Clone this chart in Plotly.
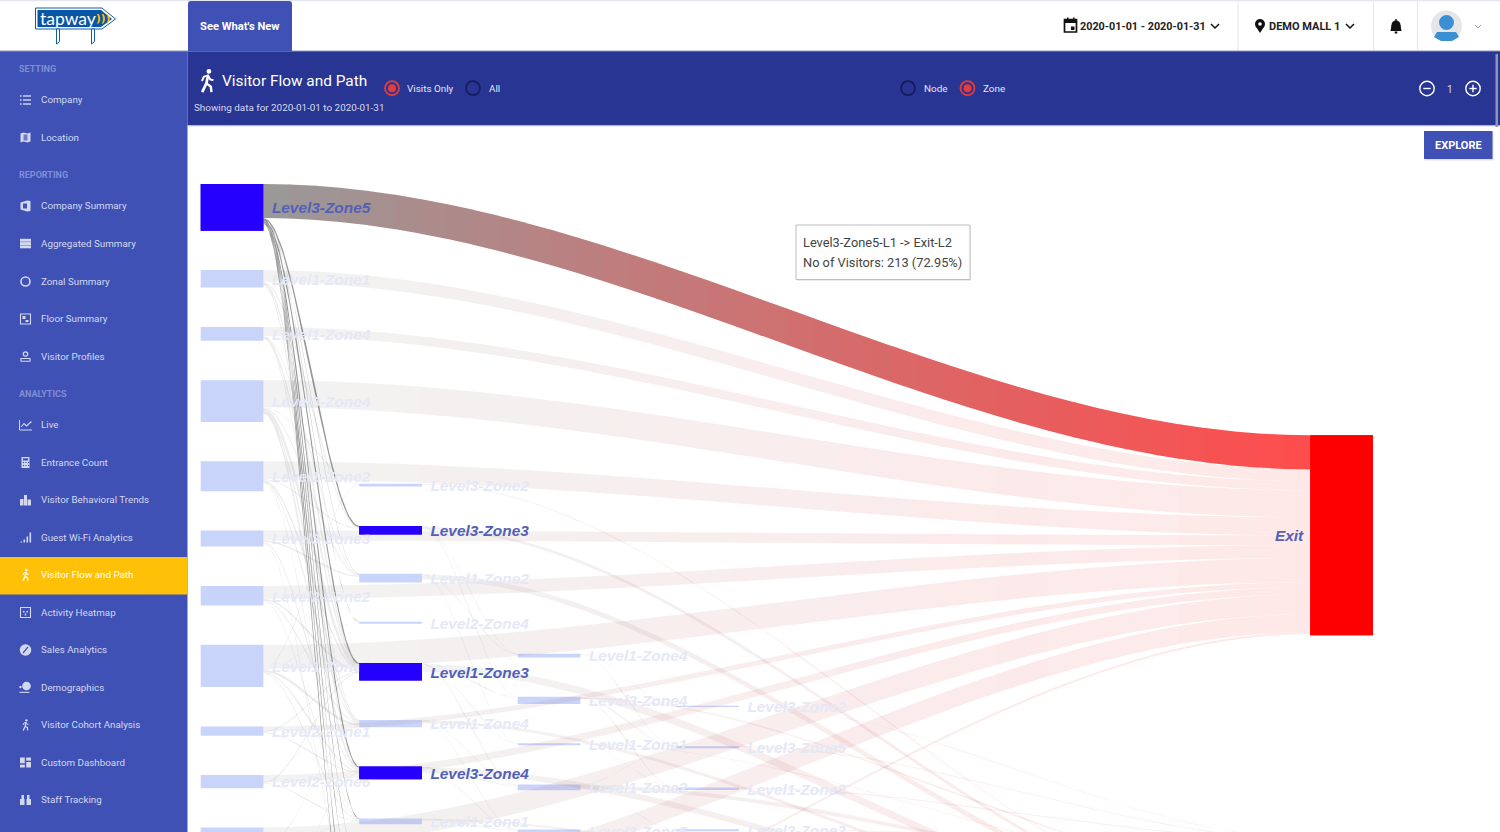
import numpy as np
import plotly.graph_objects as go

# --- Data: visitors per node, one pair of lists per sankey column ---
col0_names = ["Level3-Zone5", "Level1-Zone1", "Level1-Zone4", "Level3-Zone4", "Level1-Zone2", "Level3-Zone3", "Level2-Zone2",
              "Level1-Zone3", "Level2-Zone1", "Level2-Zone6", "Level2-Zone4", "Level2-Zone3", "Level3-Zone2", "Level2-Zone5"]
col0_values = [292, 110, 87, 262, 187, 100, 123, 264, 58, 83, 170, 150, 40, 30]

col1_names = ["Level3-Zone2", "Level3-Zone3", "Level1-Zone2", "Level2-Zone4", "Level1-Zone3", "Level1-Zone4", "Level3-Zone4",
              "Level1-Zone1", "Level2-Zone2", "Level2-Zone1", "Level2-Zone6", "Level3-Zone5"]
col1_values = [18, 54, 54, 12, 110, 46, 79, 36, 30, 30, 30, 30]

col2_names = ["Level1-Zone4", "Level3-Zone4", "Level1-Zone1", "Level1-Zone2", "Level3-Zone5"]
col2_values = [23, 46, 12, 36, 20]

col3_names = ["Level3-Zone2", "Level3-Zone5", "Level1-Zone2", "Level3-Zone3"]
col3_values = [8, 12, 16, 12]

exit_names = ["Exit-L2"]
exit_values = [1250]
exit_low_names = ["Exit-L5", "Exit-L4", "Exit-L3"]
exit_low_values = [20, 40, 170]

# nodes drawn solid because the hovered link touches them
active_nodes = ["Level3-Zone5-L1", "Level3-Zone3-L2", "Level1-Zone3-L2", "Level3-Zone4-L2", "Exit-L2"]

links_exit_src = ["Level3-Zone5-L1", "Level1-Zone1-L1", "Level1-Zone4-L1", "Level3-Zone4-L1", "Level1-Zone2-L1", "Level3-Zone3-L1",
                  "Level2-Zone2-L1", "Level1-Zone3-L1", "Level2-Zone1-L1", "Level2-Zone6-L1", "Level2-Zone4-L1", "Level2-Zone3-L1",
                  "Level2-Zone5-L1"]
links_exit_val = [213, 75, 56, 169, 112, 62, 81, 150, 31, 44, 125, 112, 12]

links_hover_tgt = ["Level3-Zone3-L2", "Level1-Zone2-L2", "Level2-Zone4-L2", "Level1-Zone3-L2", "Level3-Zone4-L2", "Level1-Zone1-L2",
                   "Level2-Zone2-L2", "Level2-Zone1-L2", "Level2-Zone6-L2", "Level3-Zone5-L2"]
links_hover_val = [8, 1, 1, 7, 6, 3, 2, 2, 2, 3]

# the thin grey links between the columns: source, target, visitors
thin_src = ["Level1-Zone1-L1", "Level1-Zone1-L1", "Level1-Zone1-L1", "Level1-Zone4-L1", "Level1-Zone4-L1", "Level1-Zone4-L1",
            "Level3-Zone4-L1", "Level3-Zone4-L1", "Level3-Zone4-L1", "Level3-Zone4-L1", "Level3-Zone4-L1", "Level1-Zone2-L1",
            "Level1-Zone2-L1", "Level1-Zone2-L1", "Level1-Zone2-L1", "Level3-Zone3-L1", "Level3-Zone3-L1", "Level3-Zone3-L1",
            "Level2-Zone2-L1", "Level2-Zone2-L1", "Level2-Zone2-L1", "Level1-Zone3-L1", "Level1-Zone3-L1", "Level1-Zone3-L1",
            "Level1-Zone3-L1", "Level1-Zone3-L1", "Level2-Zone1-L1", "Level2-Zone1-L1", "Level2-Zone6-L1", "Level2-Zone6-L1",
            "Level2-Zone4-L1", "Level2-Zone4-L1", "Level2-Zone3-L1",
            "Level3-Zone3-L2", "Level3-Zone3-L2", "Level1-Zone2-L2", "Level1-Zone2-L2", "Level1-Zone3-L2", "Level1-Zone3-L2",
            "Level1-Zone3-L2", "Level1-Zone4-L2", "Level1-Zone4-L2", "Level3-Zone4-L2", "Level3-Zone4-L2", "Level1-Zone1-L2",
            "Level1-Zone4-L3", "Level1-Zone4-L3", "Level3-Zone4-L3", "Level3-Zone4-L3", "Level1-Zone1-L3", "Level1-Zone2-L3",
            "Level1-Zone2-L3"]
thin_tgt = ["Level3-Zone3-L2", "Level1-Zone3-L2", "Level3-Zone4-L2", "Level1-Zone2-L2", "Level1-Zone3-L2", "Level1-Zone4-L2",
            "Level3-Zone2-L2", "Level1-Zone2-L2", "Level1-Zone3-L2", "Level1-Zone4-L2", "Level3-Zone4-L2", "Level3-Zone3-L2",
            "Level1-Zone3-L2", "Level1-Zone4-L2", "Level1-Zone1-L2", "Level1-Zone2-L2", "Level3-Zone4-L2", "Level2-Zone1-L2",
            "Level1-Zone3-L2", "Level1-Zone4-L2", "Level1-Zone1-L2", "Level3-Zone2-L2", "Level2-Zone4-L2", "Level1-Zone4-L2",
            "Level3-Zone4-L2", "Level1-Zone1-L2", "Level1-Zone3-L2", "Level3-Zone4-L2", "Level1-Zone3-L2", "Level1-Zone1-L2",
            "Level1-Zone4-L2", "Level1-Zone1-L2", "Level3-Zone4-L2",
            "Level3-Zone4-L3", "Level1-Zone4-L3", "Level1-Zone4-L3", "Level1-Zone1-L3", "Level3-Zone4-L3", "Level1-Zone2-L3",
            "Level1-Zone1-L3", "Level1-Zone2-L3", "Level3-Zone5-L3", "Level3-Zone5-L3", "Level1-Zone2-L3", "Level3-Zone5-L3",
            "Level3-Zone2-L4", "Level3-Zone5-L4", "Level3-Zone5-L4", "Level1-Zone2-L4", "Level1-Zone2-L4", "Level3-Zone5-L4",
            "Level3-Zone3-L4"]
thin_val = [6, 8, 6, 4, 8, 5, 3, 6, 14, 8, 10, 5, 8, 5, 3, 8, 5, 3, 8, 5, 3, 3, 2, 14, 6, 4, 5, 5, 6, 4, 4, 3, 3,
            3, 2, 2, 2, 3, 4, 2, 2, 2, 3, 3, 2, 2, 2, 3, 3, 2, 2, 2]

# links that leave the later columns for the other exit nodes
low_src = ["Level3-Zone2-L2", "Level3-Zone3-L2", "Level1-Zone2-L2", "Level1-Zone3-L2", "Level1-Zone4-L2", "Level3-Zone4-L2", "Level1-Zone1-L2",
           "Level3-Zone4-L3", "Level1-Zone2-L3", "Level1-Zone1-L3",
           "Level3-Zone2-L4", "Level3-Zone5-L4", "Level1-Zone2-L4", "Level3-Zone3-L4"]
low_tgt = ["Exit-L3", "Exit-L3", "Exit-L3", "Exit-L3", "Exit-L3", "Exit-L3", "Exit-L3",
           "Exit-L4", "Exit-L4", "Exit-L4",
           "Exit-L5", "Exit-L5", "Exit-L5", "Exit-L5"]
low_val = [5, 18, 30, 45, 18, 36, 12, 8, 24, 4, 3, 5, 6, 4]

# --- Page text ---
setting_items = ["Company", "Location"]
reporting_items = ["Company Summary", "Aggregated Summary", "Zonal Summary", "Floor Summary", "Visitor Profiles"]
analytics_items = ["Live", "Entrance Count", "Visitor Behavioral Trends", "Guest Wi-Fi Analytics", "Visitor Flow and Path",
                   "Activity Heatmap", "Sales Analytics", "Demographics", "Visitor Cohort Analysis", "Custom Dashboard", "Staff Tracking"]

# --- Sankey layout ---
PX_PER_VISITOR = 0.16
NODE_GAP = 39.3
NODE_W = 62.7
COL_X0 = 200.7
COL_STEP = 158.5

columns = [
    (0, 184.0, [n + "-L1" for n in col0_names], col0_values),
    (1, 483.7, [n + "-L2" for n in col1_names], col1_values),
    (2, 653.7, [n + "-L3" for n in col2_names], col2_values),
    (3, 705.7, [n + "-L4" for n in col3_names], col3_values),
    (7, 435.3, exit_names, exit_values),
    (7, 838.0, exit_low_names, exit_low_values),
]

nodes = {}
for depth, top, ids, vals in columns:
    y = top
    for node_id, v in zip(ids, vals):
        h = v * PX_PER_VISITOR
        nodes[node_id] = dict(x0=COL_X0 + COL_STEP * depth, x1=COL_X0 + COL_STEP * depth + NODE_W, y0=y, h=h, depth=depth)
        y += h + NODE_GAP

link_src = links_exit_src + ["Level3-Zone5-L1"] * len(links_hover_tgt) + thin_src + low_src
link_tgt = ["Exit-L2"] * len(links_exit_src) + links_hover_tgt + thin_tgt + low_tgt
link_val = links_exit_val + links_hover_val + thin_val + low_val

# stack the links on both ends of each node
out_used = {k: 0.0 for k in nodes}
in_used = {k: 0.0 for k in nodes}
src_y = [0.0] * len(link_val)
tgt_y = [0.0] * len(link_val)
for i in range(len(link_val)):
    w = link_val[i] * PX_PER_VISITOR
    src_y[i] = nodes[link_src[i]]["y0"] + out_used[link_src[i]] + w / 2
    out_used[link_src[i]] += w
order = sorted(range(len(link_val)), key=lambda i: (nodes[link_src[i]]["depth"], nodes[link_src[i]]["y0"]))
for i in order:
    w = link_val[i] * PX_PER_VISITOR
    tgt_y[i] = nodes[link_tgt[i]]["y0"] + in_used[link_tgt[i]] + w / 2
    in_used[link_tgt[i]] += w

fig = go.Figure()


def add_node(node_id, n):
    if node_id.startswith("Exit"):
        color = "#ff0000" if node_id in active_nodes else "#ffcccc"
    else:
        color = "#2600ff" if node_id in active_nodes else "#c9d4fb"
    fig.add_trace(go.Scatter(
        x=[n["x0"], n["x1"], n["x1"], n["x0"], n["x0"]],
        y=[n["y0"], n["y0"], n["y0"] + n["h"], n["y0"] + n["h"], n["y0"]],
        mode="lines", fill="toself", fillcolor=color, line=dict(width=0), hoverinfo="skip"))


# nodes go first, the links are translucent on top of them
for node_id, n in nodes.items():
    add_node(node_id, n)


def link_color(t, hovered, to_exit):
    if not to_exit:
        return "rgba(80,80,80,0.6)" if hovered else "rgba(110,110,110,0.13)"
    r, g = 128 + 127 * t, 128 * (1 - t)
    if hovered:
        # solid so that the slices of the band show no seams
        a = 0.8 - 0.1 * t
        r, g = r * a + 255 * (1 - a), g * a + 255 * (1 - a)
        return f"rgb({r:.0f},{g:.0f},{g:.0f})"
    return f"rgba({r:.0f},{g:.0f},{g:.0f},{0.1 - 0.01 * t:.3f})"


for i in range(len(link_val)):
    s, g = nodes[link_src[i]], nodes[link_tgt[i]]
    hovered = link_src[i] == "Level3-Zone5-L1"
    to_exit = link_tgt[i].startswith("Exit")
    w = link_val[i] * PX_PER_VISITOR
    x0, x1 = s["x1"], g["x0"]
    dx = x1 - x0
    slices = int(dx / 26) if to_exit and w > 1.5 else 1
    steps = 4 if slices > 1 else 48
    overlap = 0.8 / dx if hovered and slices > 1 else 0
    for k in range(slices):
        f = np.linspace(k / slices, min(1, (k + 1) / slices + overlap), steps + 1)
        xs = x0 + dx * f
        yc = src_y[i] + (tgt_y[i] - src_y[i]) * (3 * f ** 2 - 2 * f ** 3)
        slope = (tgt_y[i] - src_y[i]) / dx * 6 * f * (1 - f)
        half = w / 2 * np.sqrt(1 + slope ** 2)
        fig.add_trace(go.Scatter(
            x=np.concatenate([xs, xs[::-1], xs[:1]]),
            y=np.concatenate([yc - half, (yc + half)[::-1], (yc - half)[:1]]),
            mode="lines", fill="toself", line=dict(width=0), hoverinfo="skip",
            fillcolor=link_color((k + 0.5) / slices, hovered, to_exit)))

# --- Sankey labels: text traces, so that the solid nodes drawn after them cover any overlap ---
LABEL_FONT = "Liberation Sans"
for node_id, n in nodes.items():
    yc = n["y0"] + n["h"] / 2
    if yc > 840 or node_id in exit_low_names:
        continue
    color = "#5261b8" if node_id in active_nodes else "#e5e8f6"
    is_exit = node_id == "Exit-L2"
    fig.add_trace(go.Scatter(
        x=[n["x0"] - 7 if is_exit else n["x1"] + 8.5], y=[yc + 2],
        mode="text", text=["Exit" if is_exit else node_id.rsplit("-", 1)[0]],
        textposition="middle left" if is_exit else "middle right", hoverinfo="skip",
        textfont=dict(family=LABEL_FONT, size=15.4, color=color, weight="bold", style="italic")))
for node_id in active_nodes:
    add_node(node_id, nodes[node_id])

shapes = []
annotations = []
UI_FONT = "Roboto"


def txt(x, y, text, size=11, color="#000000", anchor="left", family=UI_FONT):
    annotations.append(dict(x=x, y=y, xref="x", yref="y", text=text, showarrow=False, xanchor=anchor, yanchor="middle",
                            borderpad=0, borderwidth=0, font=dict(size=size, color=color, family=family)))


def rect(x0, y0, x1, y1, color, layer="below", line=None):
    shapes.append(dict(type="rect", x0=x0, y0=y0, x1=x1, y1=y1, xref="x", yref="y", fillcolor=color, layer=layer,
                       line=line or dict(width=0)))


def circle(cx, cy, r, fill="rgba(0,0,0,0)", line_color=None, width=1.5, layer="below"):
    shapes.append(dict(type="circle", x0=cx - r, y0=cy - r, x1=cx + r, y1=cy + r, xref="x", yref="y", fillcolor=fill, layer=layer,
                       line=dict(width=width if line_color else 0, color=line_color or "rgba(0,0,0,0)")))


def path(points, line_color=None, width=1.5, fill=None):
    d = "M" + " L".join(f"{px:.1f},{py:.1f}" for px, py in points)
    if fill:
        d += " Z"
    shapes.append(dict(type="path", path=d, xref="x", yref="y", layer="below", fillcolor=fill or "rgba(0,0,0,0)",
                       line=dict(width=width if line_color else 0, color=line_color or "rgba(0,0,0,0)")))


def walker(cx, cy, s, color):
    circle(cx + 1.2 * s, cy - 6 * s, 1.5 * s, fill=color)
    p = lambda pts: [(cx + a * s, cy + b * s) for a, b in pts]
    path(p([(0.6, -3.5), (-0.4, 1.5), (-3, 7)]), color, 1.7 * s)
    path(p([(-0.4, 1.5), (2.4, 3.5), (2.8, 7)]), color, 1.5 * s)
    path(p([(-3.2, 0), (-2, -2.6), (0.6, -3.5), (2, -1), (4, -0.5)]), color, 1.2 * s)


# --- Page frame ---
rect(0, 0, 1500, 51, "#ffffff")
rect(0, 0, 1500, 1.2, "#e4e6ee")
rect(0, 51, 187.5, 832, "#3f51b5")
rect(187.5, 51, 1500, 125.5, "#283593")
rect(187.5, 125.5, 1500, 126.5, "#d5d8e8")
rect(0, 50.4, 1500, 51.4, "#8d96b5")
shapes.append(dict(type="path", path="M188,51 L188,4 Q188,1 191,1 L289,1 Q292,1 292,4 L292,51 Z", xref="x", yref="y",
                   fillcolor="#3f51b5", line=dict(width=0), layer="below"))
txt(240, 26, "<b>See What's New</b>", 11.2, "#ffffff", "center")

# logo
path([(35.5, 8), (102, 8), (115.5, 19), (102, 29), (35.5, 29)], "#0f5ca8", 1, "#ffffff")
path([(37.5, 10), (101, 10), (112, 19), (101, 27), (37.5, 27)], None, 0, "#0b56a4")
path([(56.5, 29), (56.5, 44), (59.5, 41.5), (59.5, 29)], "#0f5ca8", 1, "#ffffff")
path([(91.5, 29), (91.5, 44), (94.5, 41.5), (94.5, 29)], "#0f5ca8", 1, "#ffffff")
txt(40, 18.5, "tapway", 17.5, "#ffffff", family="Lato")
txt(96, 18, "<b>)))</b>", 10.5, "#ffc20e", family="DejaVu Sans")

# --- Sidebar ---
ICON = "#d3d8f1"
item_y = {"Company": 100, "Location": 137.5, "Company Summary": 206, "Aggregated Summary": 244, "Zonal Summary": 281.5,
          "Floor Summary": 319, "Visitor Profiles": 356.5, "Live": 425, "Entrance Count": 462.5, "Visitor Behavioral Trends": 500,
          "Guest Wi-Fi Analytics": 537.5, "Visitor Flow and Path": 575, "Activity Heatmap": 612.5, "Sales Analytics": 650,
          "Demographics": 687.5, "Visitor Cohort Analysis": 725, "Custom Dashboard": 762.5, "Staff Tracking": 800}
rect(0, 557, 187.5, 594.5, "#ffc107")
for label, y in [("SETTING", 69), ("REPORTING", 175), ("ANALYTICS", 394)]:
    txt(18.5, y, "<b>" + label + "</b>", 9, "#7f8ed6")
for label in setting_items + reporting_items + analytics_items:
    active = label == "Visitor Flow and Path"
    txt(41, item_y[label] - 0.5, label, 9.8, "#ffffff" if active else "#d3d8f1")

cx = 25.5
y = item_y["Company"]
for dy in (-4, 0, 4):
    rect(cx - 5.5, y + dy - 0.7, cx - 4, y + dy + 0.7, ICON)
    rect(cx - 2.5, y + dy - 0.7, cx + 5.5, y + dy + 0.7, ICON)
y = item_y["Location"]
path([(cx - 5, y - 4), (cx - 2, y - 5), (cx + 2, y - 4), (cx + 5, y - 5), (cx + 5, y + 4), (cx + 2, y + 5), (cx - 2, y + 4), (cx - 5, y + 5)], None, 0, ICON)
rect(cx - 2, y - 3, cx + 2, y + 3, "#6c7bc9")
y = item_y["Company Summary"]
path([(cx - 5, y - 3.5), (cx + 1.5, y - 5.5), (cx + 5, y - 5), (cx + 5, y + 5), (cx + 1.5, y + 5.5), (cx - 5, y + 3.5)], None, 0, ICON)
rect(cx - 2.5, y - 2.5, cx + 1.5, y + 2.5, "#3f51b5")
y = item_y["Aggregated Summary"]
for dy in (-4, -0.7, 2.6):
    rect(cx - 5.5, y + dy - 1.2, cx + 5.5, y + dy + 1.7, ICON)
circle(cx, item_y["Zonal Summary"], 4.5, line_color=ICON, width=1.6)
y = item_y["Floor Summary"]
rect(cx - 5, y - 5, cx + 5, y + 5, "rgba(0,0,0,0)", line=dict(width=1.1, color=ICON))
rect(cx - 3, y - 3, cx, y, ICON)
rect(cx, y + 1, cx + 3, y + 3, ICON)
y = item_y["Visitor Profiles"]
circle(cx, y - 2.5, 2.2, line_color=ICON, width=1.2)
rect(cx - 4.5, y + 2, cx + 4.5, y + 4.8, "rgba(0,0,0,0)", line=dict(width=1.1, color=ICON))
y = item_y["Live"]
path([(cx - 6, y - 5), (cx - 6, y + 5), (cx + 6.5, y + 5)], ICON, 1)
path([(cx - 4.5, y + 2), (cx - 1.5, y - 1.5), (cx + 1, y + 1), (cx + 6, y - 3.5)], ICON, 1.1)
y = item_y["Entrance Count"]
rect(cx - 4, y - 5.5, cx + 4, y + 5.5, ICON)
rect(cx - 2.6, y - 4.2, cx + 2.6, y - 2, "#3f51b5")
for a in (-2, 0.5, 3):
    for b in (0, 3):
        rect(cx + a - 0.6, y + b - 0.6, cx + a + 0.6, y + b + 0.6, "#3f51b5")
y = item_y["Visitor Behavioral Trends"]
rect(cx - 5.5, y - 1, cx - 2, y + 5.5, ICON)
rect(cx - 1.5, y - 5, cx + 1.5, y + 5.5, ICON)
rect(cx + 2, y - 0.5, cx + 5.5, y + 5.5, ICON)
y = item_y["Guest Wi-Fi Analytics"]
for a, h in [(-5, 1), (-2, 3), (1, 6), (4, 10)]:
    rect(cx + a, y + 5 - h, cx + a + 1.6, y + 5, ICON)
walker(cx, item_y["Visitor Flow and Path"], 0.82, "#ffffff")
y = item_y["Activity Heatmap"]
rect(cx - 5, y - 5, cx + 5, y + 5, "rgba(0,0,0,0)", line=dict(width=1.1, color=ICON))
rect(cx - 2.5, y - 1.5, cx - 1, y, ICON)
rect(cx + 1, y - 1.5, cx + 2.5, y, ICON)
rect(cx - 0.7, y + 1, cx + 0.7, y + 3, ICON)
y = item_y["Sales Analytics"]
circle(cx, y, 5.8, fill=ICON)
path([(cx + 2.5, y - 3), (cx - 2.5, y + 3)], "#3f51b5", 1.2)
y = item_y["Demographics"]
circle(cx + 1, y - 1.5, 4.3, fill=ICON)
rect(cx - 6, y + 4.3, cx + 4, y + 5.4, ICON)
circle(cx - 5, y - 0.5, 1.2, fill=ICON)
walker(cx, item_y["Visitor Cohort Analysis"], 0.78, ICON)
y = item_y["Custom Dashboard"]
rect(cx - 5.5, y - 5, cx - 0.7, y + 0.8, ICON)
rect(cx + 0.7, y - 5, cx + 5.5, y - 1.8, ICON)
rect(cx - 5.5, y + 2.2, cx - 0.7, y + 5, ICON)
rect(cx + 0.7, y - 0.5, cx + 5.5, y + 5, ICON)
y = item_y["Staff Tracking"]
rect(cx - 5.5, y - 1, cx - 1, y + 5, ICON)
rect(cx + 1, y - 1, cx + 5.5, y + 5, ICON)
rect(cx - 4, y - 5, cx - 1.5, y, ICON)
rect(cx + 1.5, y - 5, cx + 4, y, ICON)

# --- Top bar right ---
TOP_LINE = "#e3e5ea"
for sx in (1237.5, 1373, 1417):
    rect(sx, 1, sx + 1, 50, TOP_LINE)
rect(1064.5, 19.5, 1076.5, 32, "#ffffff", line=dict(width=1.7, color="#111111"))
rect(1064.5, 19.5, 1076.5, 23, "#111111")
rect(1067, 17.5, 1068.5, 20, "#111111")
rect(1073, 17.5, 1074.5, 20, "#111111")
rect(1071, 26.5, 1074.5, 30, "#111111")
txt(1080, 26, "<b>2020-01-01 - 2020-01-31</b>", 10.8, "#222222", family=UI_FONT)
path([(1211, 24), (1215, 28), (1219, 24)], "#111111", 1.5)
circle(1260, 24, 5, fill="#111111")
path([(1255.5, 26), (1260, 33), (1264.5, 26)], None, 0, "#111111")
circle(1260, 24, 1.8, fill="#ffffff")
txt(1269, 26, "<b>DEMO MALL 1</b>", 11, "#222222")
path([(1346, 24), (1350, 28), (1354, 24)], "#111111", 1.5)
circle(1396, 25, 4.5, fill="#111111")
path([(1391.5, 25), (1390.5, 31), (1401.5, 31), (1400.5, 25)], None, 0, "#111111")
rect(1394.7, 31.5, 1397.3, 33.5, "#111111")
rect(1395.3, 19, 1396.7, 21.5, "#111111")
circle(1446.5, 26, 15.5, fill="#e6e6e8")
circle(1446.5, 22.5, 7.5, fill="#3c8fd3")
path([(1434, 37), (1437, 32), (1456, 32), (1459, 37), (1452, 41), (1441, 41)], None, 0, "#3c8fd3")
path([(1475, 25), (1478, 28), (1481, 25)], "#9a9a9a", 1)

# --- Blue header band ---
walker(207, 81, 1.6, "#ffffff")
txt(222, 81, "Visitor Flow and Path", 15.4, "#ffffff")
txt(193.5, 107.5, "Showing data for 2020-01-01 to 2020-01-31", 9.9, "#d6daf0")
txt(407, 88.5, "Visits Only", 9.9, "#e4e6f5")
txt(489, 88.5, "All", 9.9, "#e4e6f5")
txt(924, 88.5, "Node", 9.9, "#e4e6f5")
txt(983, 88.5, "Zone", 9.9, "#e4e6f5")
for rx, on in [(392, True), (473, False), (908, False), (967.5, True)]:
    circle(rx, 88.2, 7, line_color="#e53b3b" if on else "#141d5e", width=1.8)
    if on:
        circle(rx, 88.2, 4, fill="#e53b3b")
circle(1427, 88.5, 7.2, line_color="#ffffff", width=1.4)
rect(1423.3, 87.8, 1430.7, 89.2, "#ffffff")
txt(1450, 89, "1", 10, "#d6daf0", "center")
circle(1473, 88.5, 7.2, line_color="#ffffff", width=1.4)
rect(1469.3, 87.8, 1476.7, 89.2, "#ffffff")
rect(1472.3, 84.8, 1473.7, 92.2, "#ffffff")
rect(1495.5, 54, 1498, 127, "#8f95b8")

rect(1424.5, 132.5, 1493.5, 160.5, "rgba(0,0,0,0.12)")
rect(1424, 131, 1492.5, 159, "#3f51b5")
txt(1458.2, 145, "<b>EXPLORE</b>", 11, "#ffffff", "center")

# --- Tooltip of the hovered link ---
hover_share = links_exit_val[0] / col0_values[0] * 100
rect(797, 226, 971, 281, "rgba(0,0,0,0.08)", layer="above")
rect(796, 225, 970, 279.5, "#ffffff", layer="above", line=dict(width=1, color="#bdbdbd"))
txt(803, 242.5, f"{links_exit_src[0]} -> {link_tgt[0]}", 12.8, "#444444")
txt(803, 262, f"No of Visitors: {links_exit_val[0]} ({hover_share:.2f}%)", 12.8, "#444444")

fig.update_layout(
    width=1500, height=832, autosize=False, margin=dict(l=0, r=0, t=0, b=0),
    paper_bgcolor="white", plot_bgcolor="white", showlegend=False, hovermode=False,
    xaxis=dict(range=[0, 1500], visible=False, fixedrange=True),
    yaxis=dict(range=[832, 0], visible=False, fixedrange=True),
    shapes=shapes, annotations=annotations,
)

fig.write_html("out.html", config=dict(displayModeBar=False), post_script="document.body.style.margin='0';document.body.style.overflow='hidden';")
